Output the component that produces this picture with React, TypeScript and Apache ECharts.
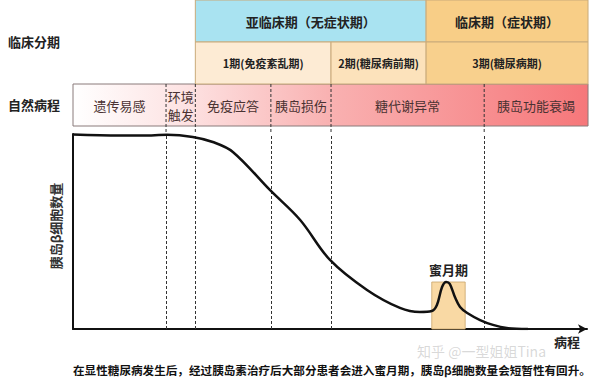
import React, { useEffect, useRef } from "react";
import * as echarts from "echarts";

// ---- data ----
const clinicalLabels = ["亚临床期（无症状期）", "临床期（症状期）"];
const clinicalRanges = [[23.8, 68.7], [68.7, 100.2]];
const clinicalColors = ["#a9e3f1", "#f8ce87"];

const stageLabels = ["1期(免疫紊乱期)", "2期(糖尿病前期)", "3期(糖尿病期)"];
const stageRanges = [[23.8, 50.2], [50.2, 68.7], [68.7, 100.2]];
const stageColors = ["#fdebd4", "#fce2bb", "#f8d08d"];

const courseLabels = ["遗传易感", "环境\n触发", "免疫应答", "胰岛损伤", "糖代谢异常", "胰岛功能衰竭"];
const courseRanges = [[0, 18.1], [18.1, 23.8], [23.8, 38.5], [38.5, 50.2], [50.2, 80], [80, 100.2]];

const dividers = [18.1, 23.8, 38.5, 50.2, 80];

const curveX = [0, 9.1, 13.6, 18.3, 23.3, 27.2, 31.1, 38.3, 44.2, 50, 57.2, 63.6, 67.5, 69.8, 70.8, 71.8, 72.6, 73.3, 74.3, 75.3, 76.7, 79.2, 81.7, 84.4, 88.5];
const curveY = [99.7, 99.2, 99.2, 99.6, 98.5, 95.9, 90.8, 71.3, 55.9, 35.4, 20, 10.8, 8.7, 9.2, 12.3, 21.5, 24.1, 23.1, 16.4, 11.3, 8.2, 4.6, 2.1, 0.5, 0];

const honeymoon = { label: "蜜月期", start: 69.8, end: 76.3, top: 24.1 };

const yName = "胰岛β细胞数量";
const xName = "病程";
const caption = "在显性糖尿病发生后，经过胰岛素治疗后大部分患者会进入蜜月期，胰岛β细胞数量会短暂性有回升。";
const watermark = "知乎 @一型姐姐Tina";

const FONT = "'Noto Sans CJK SC', 'Noto Sans', sans-serif";

function rowRenderer(labels: string[], fills: (string | null)[], opts: any) {
  return (params: any, api: any) => {
    const i = params.dataIndex;
    const a = api.coord([api.value(0), 1]);
    const b = api.coord([api.value(1), 0]);
    return {
      type: "rect",
      shape: { x: a[0], y: a[1], width: b[0] - a[0], height: b[1] - a[1] },
      style: {
        fill: fills[i] || "transparent",
        stroke: opts.stroke || null,
        lineWidth: opts.stroke ? 1 : 0,
      },
      textContent: {
        style: {
          text: labels[i],
          fontSize: opts.fontSize,
          fontWeight: opts.fontWeight,
          fill: opts.color,
          fontFamily: FONT,
          align: "center",
          verticalAlign: "middle",
          lineHeight: opts.lineHeight || opts.fontSize + 2,
        },
      },
      textConfig: { position: "inside" },
    };
  };
}

export default function App() {
  const ref = useRef<HTMLDivElement>(null);
  useEffect(() => {
    if (!ref.current) return;
    const chart = echarts.init(ref.current, undefined, { renderer: "svg" });
    const gridBase = { left: 73, right: 13 };
    const hiddenX = (gi: number) => ({ type: "value", gridIndex: gi, min: 0, max: 100, show: false });
    const hiddenY = (gi: number) => ({ type: "value", gridIndex: gi, min: 0, max: 1, show: false });

    const option: any = {
      animation: false,
      backgroundColor: "#ffffff",
      grid: [
        { ...gridBase, top: 134, height: 195 },
        { ...gridBase, top: 0, height: 42 },
        { ...gridBase, top: 42, height: 42 },
        { ...gridBase, top: 84, height: 42 },
      ],
      xAxis: [
        {
          type: "value",
          gridIndex: 0,
          min: 0,
          max: 100,
          axisLine: {
            show: true,
            symbol: ["none", "arrow"],
            symbolSize: [7, 9],
            lineStyle: { color: "#111", width: 2 },
          },
          axisTick: { show: false },
          axisLabel: { show: false },
          splitLine: { show: false },
        },
        hiddenX(1),
        hiddenX(2),
        hiddenX(3),
      ],
      yAxis: [
        {
          type: "value",
          gridIndex: 0,
          min: 0,
          max: 100,
          axisLine: { show: true, lineStyle: { color: "#111", width: 2 } },
          axisTick: { show: false },
          axisLabel: { show: false },
          splitLine: { show: false },
        },
        hiddenY(1),
        hiddenY(2),
        hiddenY(3),
      ],
      series: [
        {
          type: "line",
          xAxisIndex: 0,
          yAxisIndex: 0,
          data: curveX.map((x, i) => [x, curveY[i]]),
          smooth: 0.35,
          showSymbol: false,
          lineStyle: { color: "#111", width: 2.5 },
          z: 5,
          markArea: {
            silent: true,
            itemStyle: { color: "#f9d9a4", borderColor: "#c9a46a", borderWidth: 0.8 },
            label: {
              show: true,
              position: "top",
              distance: 6,
              color: "#222",
              fontSize: 13,
              fontWeight: "bold",
              fontFamily: FONT,
            },
            data: [
              [
                { name: honeymoon.label, xAxis: honeymoon.start, yAxis: 0 },
                { xAxis: honeymoon.end, yAxis: honeymoon.top },
              ],
            ],
          },
          markLine: {
            silent: true,
            symbol: ["none", "none"],
            label: { show: false },
            lineStyle: { color: "#333", width: 1, type: [3, 2] },
            data: dividers.map((v) => ({ xAxis: v })),
          },
        },
        {
          type: "custom",
          xAxisIndex: 1,
          yAxisIndex: 1,
          renderItem: rowRenderer(clinicalLabels, clinicalColors, {
            fontSize: 13,
            fontWeight: "bold",
            color: "#222",
            stroke: "#c9aa7a",
          }),
          data: clinicalRanges,
        },
        {
          type: "custom",
          xAxisIndex: 2,
          yAxisIndex: 2,
          renderItem: rowRenderer(stageLabels, stageColors, {
            fontSize: 11,
            fontWeight: "bold",
            color: "#222",
            stroke: "#c9aa7a",
          }),
          data: stageRanges,
        },
        {
          type: "custom",
          xAxisIndex: 3,
          yAxisIndex: 3,
          renderItem: (params: any, api: any) => {
            const a = api.coord([api.value(0), 1]);
            const b = api.coord([api.value(1), 0]);
            return {
              type: "rect",
              shape: { x: a[0], y: a[1], width: b[0] - a[0], height: b[1] - a[1] },
              style: {
                fill: new echarts.graphic.LinearGradient(0, 0, 1, 0, [
                  { offset: 0, color: "#ffffff" },
                  { offset: 0.22, color: "#fde2e2" },
                  { offset: 0.5, color: "#f9b1b1" },
                  { offset: 1, color: "#f6777a" },
                ]),
                stroke: "#8a7a7a",
                lineWidth: 1,
              },
            };
          },
          data: [[0, 100.2]],
          z: 1,
        },
        {
          type: "custom",
          xAxisIndex: 3,
          yAxisIndex: 3,
          renderItem: (params: any, api: any) => {
            const base: any = rowRenderer(courseLabels, courseLabels.map(() => null), {
              fontSize: 13,
              fontWeight: "normal",
              color: "#4a3232",
              lineHeight: 18,
            })(params, api);
            const children: any[] = [base];
            if (params.dataIndex > 0) {
              const a = api.coord([api.value(0), 1]);
              const b = api.coord([api.value(0), 0]);
              children.push({
                type: "line",
                shape: { x1: a[0], y1: a[1], x2: b[0], y2: b[1] + 8 },
                style: { stroke: "#333", lineWidth: 1, lineDash: [3, 2] },
              });
            }
            return { type: "group", children };
          },
          data: courseRanges,
          z: 2,
        },
      ],
      graphic: [
        {
          type: "text",
          left: 8,
          top: 35,
          style: { text: "临床分期", fontSize: 13, fontWeight: "bold", fill: "#222", fontFamily: FONT },
        },
        {
          type: "text",
          left: 8,
          top: 98,
          style: { text: "自然病程", fontSize: 13, fontWeight: "bold", fill: "#222", fontFamily: FONT },
        },
        {
          type: "text",
          x: 55,
          y: 226,
          rotation: Math.PI / 2,
          style: {
            text: yName,
            fontSize: 13,
            fontWeight: "bold",
            fill: "#333",
            fontFamily: FONT,
            align: "center",
            verticalAlign: "middle",
          },
        },
        {
          type: "text",
          left: 554,
          top: 335,
          style: { text: xName, fontSize: 13, fontWeight: "bold", fill: "#222", fontFamily: FONT },
        },
        {
          type: "text",
          left: 417,
          top: 344,
          style: { text: watermark, fontSize: 14, fill: "rgba(170,170,170,0.45)", fontFamily: FONT },
        },
        {
          type: "text",
          left: 73,
          top: 364,
          style: { text: caption, fontSize: 11.6, fontWeight: "bold", fill: "#111", fontFamily: FONT },
        },
      ],
    };
    chart.setOption(option);
    return () => chart.dispose();
  }, []);
  return <div ref={ref} style={{ width: 600, height: 385, position: "absolute", left: 0, top: 0 }} />;
}
